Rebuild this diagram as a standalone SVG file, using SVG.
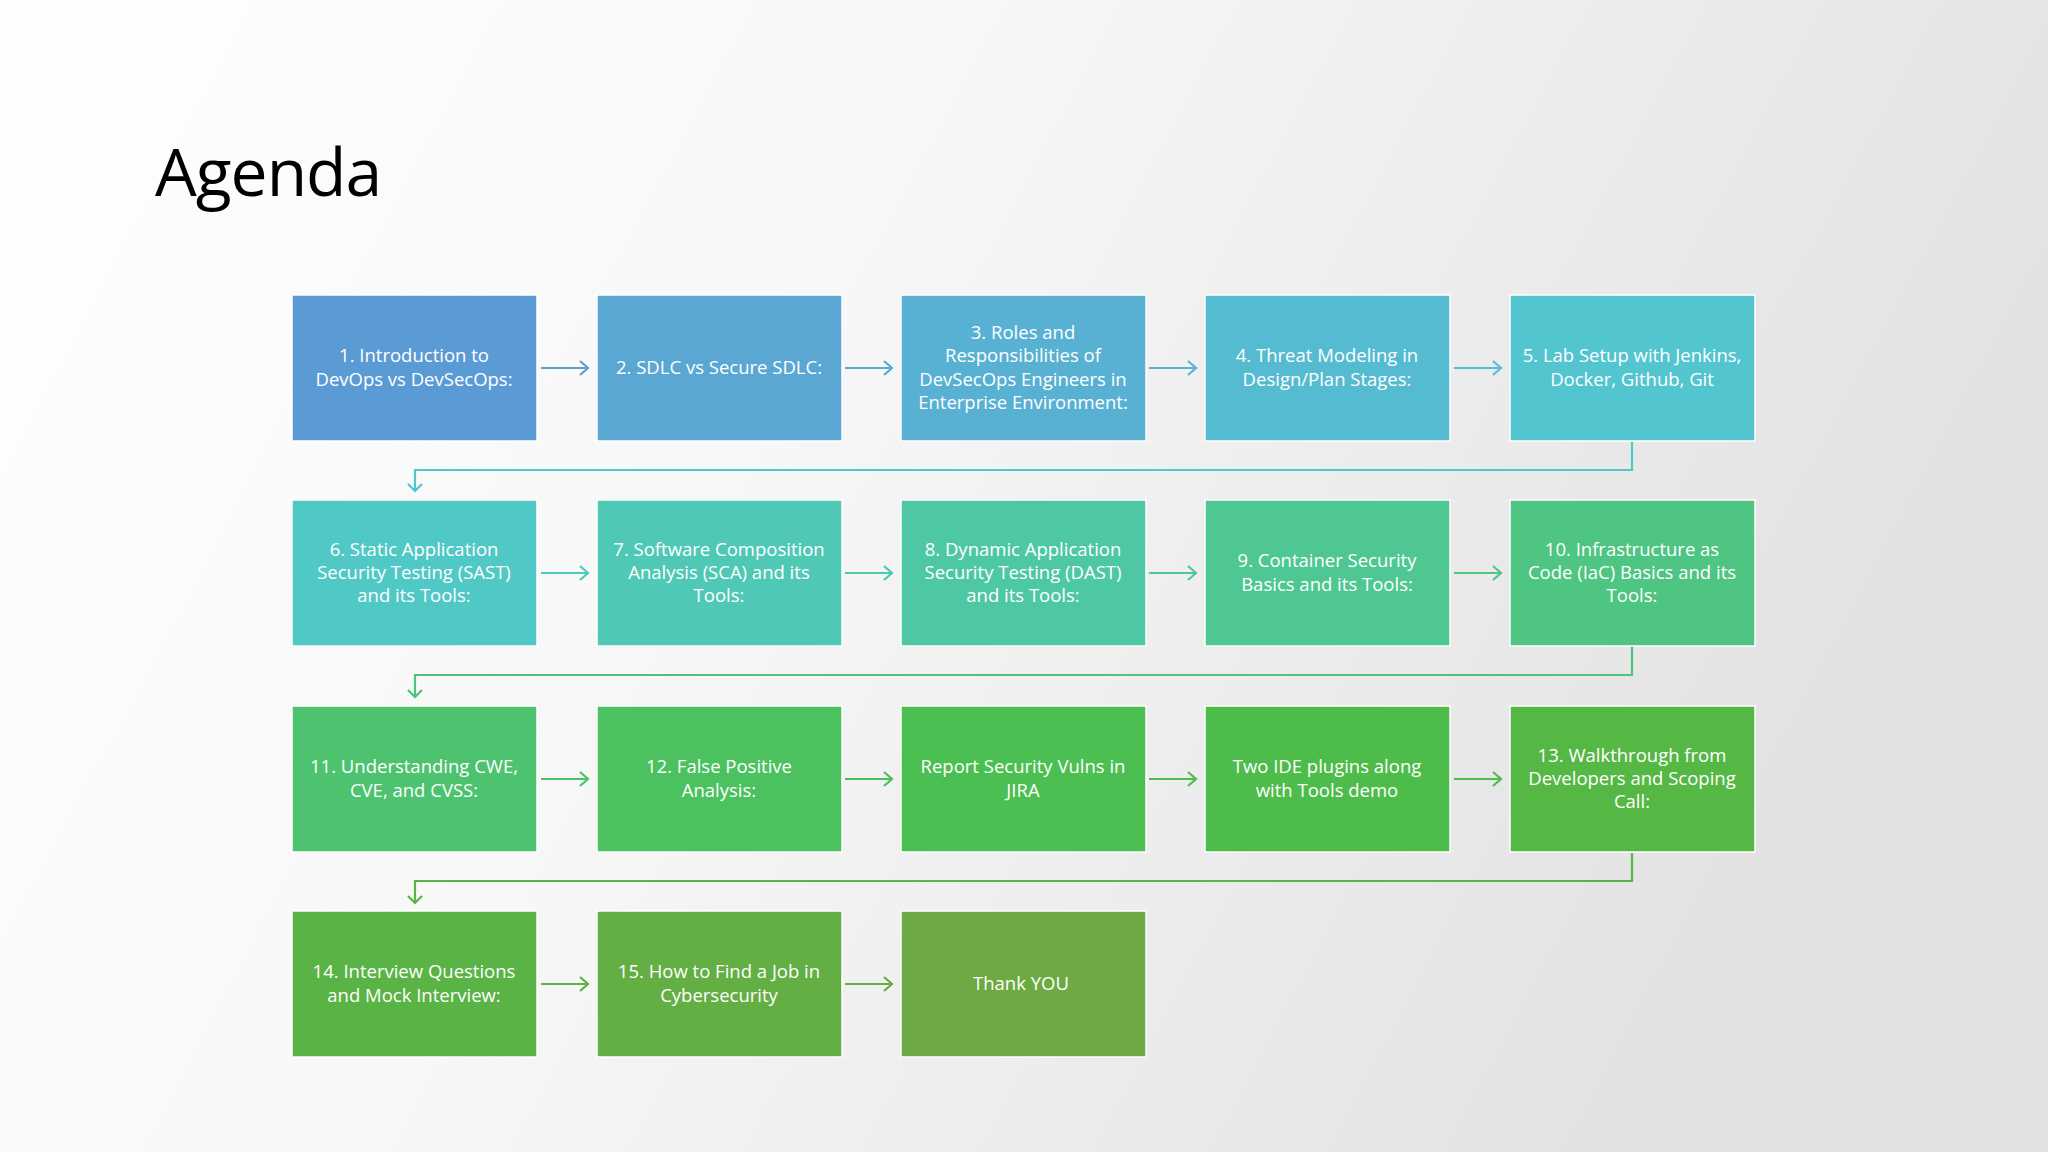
<svg xmlns="http://www.w3.org/2000/svg" width="2048" height="1152" viewBox="0 0 2048 1152">
<defs>
<linearGradient id="bg" x1="0" y1="0" x2="1" y2="0.3">
<stop offset="0" stop-color="#ffffff"/><stop offset="0.45" stop-color="#f7f7f7"/><stop offset="1" stop-color="#e2e2e2"/>
</linearGradient>
<style>
.b{stroke:#ffffff;stroke-width:1.5}
.t{font-family:"Open Sans","Noto Sans",sans-serif;font-size:18.5px;fill:#ffffff;text-anchor:middle}
.c{fill:none;stroke-width:2.2}
</style>
</defs>
<rect width="2048" height="1152" fill="url(#bg)"/>
<text x="155" y="196" font-family="'Open Sans','Noto Sans',sans-serif" font-size="66" fill="#000" letter-spacing="-1">Agenda</text>
<g id="connectors">
<g class="c" stroke="#5aa0d4"><path d="M541 368H588M580 361l8 7-8 7"/></g>
<g class="c" stroke="#58acd3"><path d="M845 368H892M884 361l8 7-8 7"/></g>
<g class="c" stroke="#56b6d1"><path d="M1149 368H1196M1188 361l8 7-8 7"/></g>
<g class="c" stroke="#53c0cf"><path d="M1454 368H1501M1493 361l8 7-8 7"/></g>
<g class="c" stroke="#50c7c8"><path d="M1632 441V470H415V491M408 484l7 7 7-7"/></g>
<g class="c" stroke="#4fc9bd"><path d="M541 573H588M580 566l8 7-8 7"/></g>
<g class="c" stroke="#4ec8ad"><path d="M845 573H892M884 566l8 7-8 7"/></g>
<g class="c" stroke="#4ec79c"><path d="M1149 573H1196M1188 566l8 7-8 7"/></g>
<g class="c" stroke="#4ec68a"><path d="M1454 573H1501M1493 566l8 7-8 7"/></g>
<g class="c" stroke="#4dc479"><path d="M1632 646V675H415V697M408 690l7 7 7-7"/></g>
<g class="c" stroke="#4cc268"><path d="M541 779H588M580 772l8 7-8 7"/></g>
<g class="c" stroke="#4cc058"><path d="M845 779H892M884 772l8 7-8 7"/></g>
<g class="c" stroke="#4cbe4e"><path d="M1149 779H1196M1188 772l8 7-8 7"/></g>
<g class="c" stroke="#50bb47"><path d="M1454 779H1501M1493 772l8 7-8 7"/></g>
<g class="c" stroke="#57b745"><path d="M1632 853V881H415V903M408 896l7 7 7-7"/></g>
<g class="c" stroke="#5fb244"><path d="M541 984H588M580 977l8 7-8 7"/></g>
<g class="c" stroke="#68ad43"><path d="M845 984H892M884 977l8 7-8 7"/></g>
</g>
<g id="n1"><rect class="b" x="292" y="295" width="245" height="146" fill="#5b9bd5"/><text class="t" x="414" y="362">1. Introduction to</text><text class="t" x="414" y="386">DevOps vs DevSecOps:</text></g>
<g id="n2"><rect class="b" x="597" y="295" width="245" height="146" fill="#5aa7d4"/><text class="t" x="719" y="374">2. SDLC vs Secure SDLC:</text></g>
<g id="n3"><rect class="b" x="901" y="295" width="245" height="146" fill="#58b1d2"/><text class="t" x="1023" y="339">3. Roles and</text><text class="t" x="1023" y="362">Responsibilities of</text><text class="t" x="1023" y="386">DevSecOps Engineers in</text><text class="t" x="1023" y="409">Enterprise Environment:</text></g>
<g id="n4"><rect class="b" x="1205" y="295" width="245" height="146" fill="#55bbd0"/><text class="t" x="1327" y="362">4. Threat Modeling in</text><text class="t" x="1327" y="386">Design/Plan Stages:</text></g>
<g id="n5"><rect class="b" x="1510" y="295" width="245" height="146" fill="#52c5cf"/><text class="t" x="1632" y="362">5. Lab Setup with Jenkins,</text><text class="t" x="1632" y="386">Docker, Github, Git</text></g>
<g id="n6"><rect class="b" x="292" y="500" width="245" height="146" fill="#50c9c6"/><text class="t" x="414" y="556">6. Static Application</text><text class="t" x="414" y="579">Security Testing (SAST)</text><text class="t" x="414" y="602">and its Tools:</text></g>
<g id="n7"><rect class="b" x="597" y="500" width="245" height="146" fill="#4fc9b6"/><text class="t" x="719" y="556">7. Software Composition</text><text class="t" x="719" y="579">Analysis (SCA) and its</text><text class="t" x="719" y="602">Tools:</text></g>
<g id="n8"><rect class="b" x="901" y="500" width="245" height="146" fill="#4ec8a4"/><text class="t" x="1023" y="556">8. Dynamic Application</text><text class="t" x="1023" y="579">Security Testing (DAST)</text><text class="t" x="1023" y="602">and its Tools:</text></g>
<g id="n9"><rect class="b" x="1205" y="500" width="245" height="146" fill="#4ec793"/><text class="t" x="1327" y="567">9. Container Security</text><text class="t" x="1327" y="591">Basics and its Tools:</text></g>
<g id="n10"><rect class="b" x="1510" y="500" width="245" height="146" fill="#4ec582"/><text class="t" x="1632" y="556">10. Infrastructure as</text><text class="t" x="1632" y="579">Code (IaC) Basics and its</text><text class="t" x="1632" y="602">Tools:</text></g>
<g id="n11"><rect class="b" x="292" y="706" width="245" height="146" fill="#4dc370"/><text class="t" x="414" y="773">11. Understanding CWE,</text><text class="t" x="414" y="797">CVE, and CVSS:</text></g>
<g id="n12"><rect class="b" x="597" y="706" width="245" height="146" fill="#4cc160"/><text class="t" x="719" y="773">12. False Positive</text><text class="t" x="719" y="797">Analysis:</text></g>
<g id="n13"><rect class="b" x="901" y="706" width="245" height="146" fill="#4cbf52"/><text class="t" x="1023" y="773">Report Security Vulns in</text><text class="t" x="1023" y="797">JIRA</text></g>
<g id="n14"><rect class="b" x="1205" y="706" width="245" height="146" fill="#4ebc4a"/><text class="t" x="1327" y="773">Two IDE plugins along</text><text class="t" x="1327" y="797">with Tools demo</text></g>
<g id="n15"><rect class="b" x="1510" y="706" width="245" height="146" fill="#55b845"/><text class="t" x="1632" y="762">13. Walkthrough from</text><text class="t" x="1632" y="785">Developers and Scoping</text><text class="t" x="1632" y="808">Call:</text></g>
<g id="n16"><rect class="b" x="292" y="911" width="245" height="146" fill="#5ab445"/><text class="t" x="414" y="978">14. Interview Questions</text><text class="t" x="414" y="1002">and Mock Interview:</text></g>
<g id="n17"><rect class="b" x="597" y="911" width="245" height="146" fill="#63af43"/><text class="t" x="719" y="978">15. How to Find a Job in</text><text class="t" x="719" y="1002">Cybersecurity</text></g>
<g id="n18"><rect class="b" x="901" y="911" width="245" height="146" fill="#6eaa43"/><text class="t" x="1021" y="990">Thank YOU</text></g>
</svg>
